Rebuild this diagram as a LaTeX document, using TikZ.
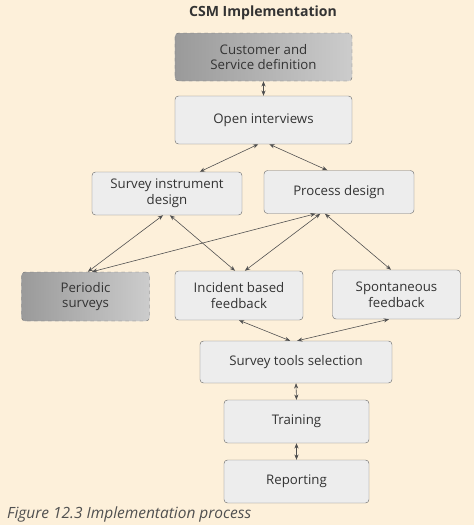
\documentclass[tikz,border=0pt]{standalone}
\usepackage{fontspec}
\setmainfont{Open Sans}
\usetikzlibrary{arrows.meta}
\definecolor{paper}{HTML}{FDF0DA}
\definecolor{boxfill}{HTML}{EDEDED}
\definecolor{boxline}{HTML}{747474}
\definecolor{darkfill}{HTML}{9A9A9A}
\definecolor{darklight}{HTML}{CCCCCC}
\definecolor{linkcol}{HTML}{505050}
\definecolor{textcol}{HTML}{333333}
\begin{document}
\begin{tikzpicture}[x=0.03cm, y=-0.03cm,
    box/.style={draw=boxline, fill=boxfill, rounded corners=3pt, align=center,
        text=textcol, inner sep=0pt, font=\fontsize{11.3}{13.5}\selectfont},
    darkbox/.style={box, dashed, left color=darkfill, right color=darklight},
    link/.style={draw=linkcol, line width=0.5pt,
        {Stealth[length=4.5pt,width=3.5pt]}-{Stealth[length=4.5pt,width=3.5pt]}}]
    \fill[paper] (0,0) rectangle (474,525);
    \useasboundingbox (0,0) rectangle (474,525);

    \node[font=\fontsize{12}{14}\selectfont\bfseries, text=textcol] (title) at (263, 13) {CSM Implementation};
    \node[darkbox, minimum width=5.31cm, minimum height=1.44cm] (0) at (263.5, 57) {Customer and\\Service definition};
    \node[box, minimum width=5.31cm, minimum height=1.44cm] (1) at (263.5, 120) {Open interviews};
    \node[box, minimum width=4.5cm, minimum height=1.29cm] (2) at (167, 193.5) {Survey instrument\\design};
    \node[box, minimum width=4.5cm, minimum height=1.29cm] (3) at (339, 192) {Process design};
    \node[darkbox, minimum width=3.84cm, minimum height=1.47cm] (4) at (85.5, 296.5) {Periodic\\surveys};
    \node[box, minimum width=3.84cm, minimum height=1.47cm] (5) at (239, 295.5) {Incident based\\feedback};
    \node[box, minimum width=3.84cm, minimum height=1.47cm] (6) at (396.5, 294.5) {Spontaneous\\feedback};
    \node[box, minimum width=5.76cm, minimum height=1.26cm] (7) at (296, 362) {Survey tools selection};
    \node[box, minimum width=4.35cm, minimum height=1.29cm] (8) at (296.5, 421.5) {Training};
    \node[box, minimum width=4.35cm, minimum height=1.29cm] (9) at (296.5, 481.5) {Reporting};
    \node[anchor=west, font=\fontsize{13.2}{15}\selectfont\itshape, text=linkcol] (caption) at (3, 514) {Figure 12.3 Implementation process};

    \draw[link] (0.south) -- (1.north);
    \draw[link] ([xshift=-4.5pt]1.south) -- ([xshift=28pt]2.north);
    \draw[link] ([xshift=5pt]1.south) -- ([xshift=-10pt]3.north);
    \draw[link] ([xshift=-3.4pt]2.south) -- ([xshift=2pt]4.north);
    \draw[link] ([xshift=2.5pt]2.south) -- ([xshift=-3.4pt]5.north);
    \draw[link] ([xshift=-20pt]3.south) -- ([xshift=5.5pt]4.north);
    \draw[link] ([xshift=-16pt]3.south) -- ([xshift=5pt]5.north);
    \draw[link] ([xshift=-12pt]3.south) -- ([xshift=-4.7pt]6.north);
    \draw[link] (5.south) -- ([xshift=-5pt]7.north);
    \draw[link] ([xshift=-6.4pt]6.south) -- ([xshift=1pt]7.north);
    \draw[link] (7.south) -- (8.north);
    \draw[link] (8.south) -- (9.north);
\end{tikzpicture}
\end{document}
